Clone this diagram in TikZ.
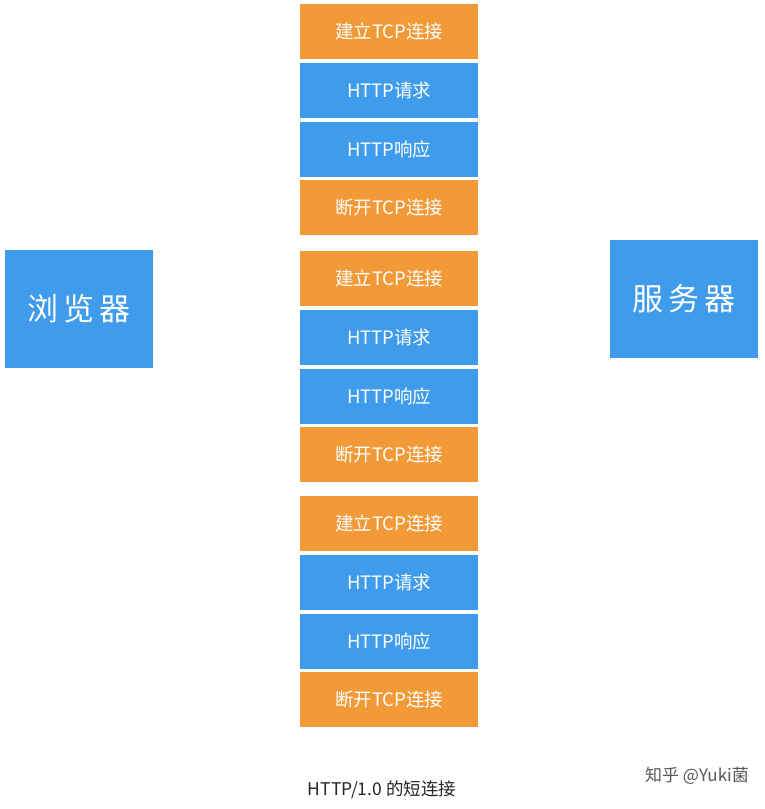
\documentclass[tikz,border=0pt]{standalone}
\usepackage{fontspec}
\setmainfont{Noto Sans CJK SC}
\definecolor{og}{HTML}{F29A38}
\definecolor{bl}{HTML}{3F9BEC}
\begin{document}
\begin{tikzpicture}[x=1pt,y=-1pt,
 bx/.style={anchor=north west,inner sep=0,minimum width=178pt,minimum height=54.5pt,text=white,font=\fontsize{18.5}{20}\selectfont},
 ob/.style={bx,fill=og},bb/.style={bx,fill=bl},
 big/.style={anchor=north west,inner sep=0,fill=bl,minimum width=148pt,minimum height=118pt,text=white,font=\fontsize{31}{34}\selectfont}]
\useasboundingbox[fill=white] (0,0) rectangle (764,809);
\node[big] (b) at (5,250) {浏\,览\,器};
\node[big] (s) at (610,240) {服\,务\,器};
\foreach \g/\y in {1/4,2/251,3/496}{
 \node[ob] (c\g) at (300,\y) {建立TCP连接};
 \node[bb] (q\g) at (300,\y+59) {HTTP请求};
 \node[bb] (r\g) at (300,\y+118) {HTTP响应};
 \node[ob] (d\g) at (300,\y+176) {断开TCP连接};
}
\node[font=\fontsize{17.5}{20}\selectfont,text=black!85] (cap) at (382,790) {HTTP/1.0 的短连接};
\node[font=\fontsize{17}{20}\selectfont,text=black!65] (wm) at (697,776) {知乎 @Yuki菌};
\end{tikzpicture}
\end{document}
